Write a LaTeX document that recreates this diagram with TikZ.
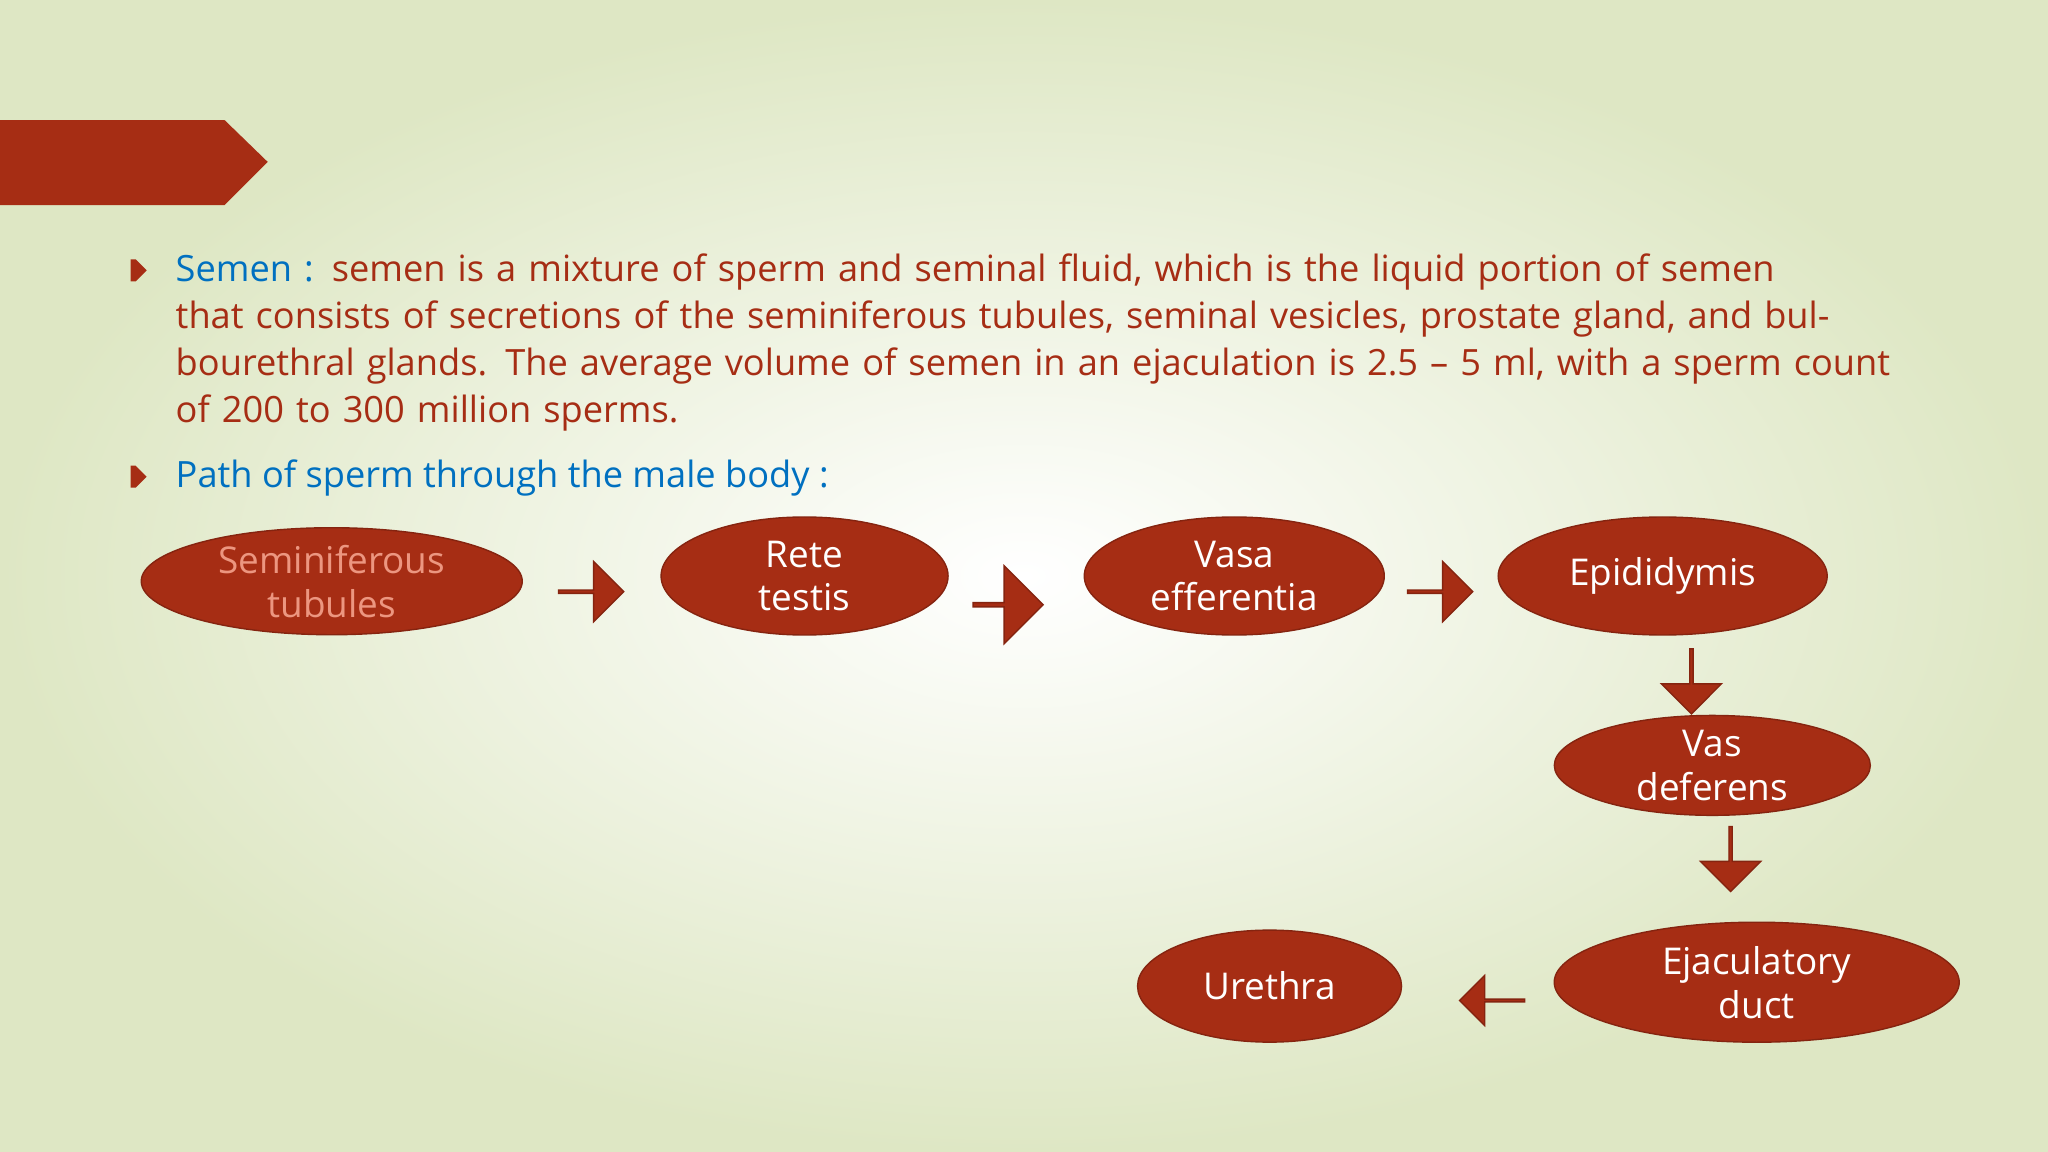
\documentclass[tikz,border=0pt]{standalone}
\usepackage{fontspec}
\setmainfont{Open Sans}
\usetikzlibrary{shapes.geometric,shapes.arrows}
\definecolor{rust}{RGB}{166,45,20}
\definecolor{ttblue}{RGB}{0,112,192}
\definecolor{bgedge}{RGB}{222,231,196}
\definecolor{pale}{RGB}{236,150,128}
\tikzset{
  stage/.style={ellipse, draw=rust!80!black, fill=rust, text=white, inner sep=0pt,
    align=center, font=\fontsize{10.5}{12.5}\selectfont},
  rarrow/.style={single arrow, fill=rust, draw=rust!80!black, inner sep=0pt,
    single arrow head extend=1.2mm, minimum height=6.5mm, minimum width=6mm},
  tick/.style={fill=rust, inner sep=0pt, minimum width=2.2mm, minimum height=1.6mm, single arrow, single arrow head extend=0pt}
}
\begin{document}
\begin{tikzpicture}[x=0.01306cm, y=-0.01306cm]
    \shade[inner color=white, outer color=bgedge] (0,0) rectangle (1568,882);
    \useasboundingbox (0,0) rectangle (1568,882);
    \fill[rust] (0,92) -- (172,92) -- (205,124) -- (172,157) -- (0,157) -- cycle;

    % bullet text
    \node[tick] (b1) at (102,207) {};
    \node[anchor=north west, text width=17.3cm, align=left, text=rust,
        font=\fontsize{10.3}{13.3}\selectfont, inner sep=0pt] (txt) at (134,194)
        {\textcolor{ttblue}{Semen :} semen is a mixture of sperm and seminal fluid, which is the liquid portion of semen that consists of secretions of the seminiferous tubules, seminal vesicles, prostate gland, and bulbourethral glands. The average volume of semen in an ejaculation is 2.5 -- 5 ml, with a sperm count of 200 to 300 million sperms.};
    \node[tick] (b2) at (102,365) {};
    \node[anchor=west, text=ttblue, font=\fontsize{10.3}{13.3}\selectfont, inner sep=0pt] (path) at (134,366)
        {Path of sperm through the male body :};

    % stages
    \node[stage, minimum width=3.81cm, minimum height=1.07cm, text=pale] (semi) at (254,445) {Seminiferous\\tubules};
    \node[stage, minimum width=2.87cm, minimum height=1.18cm] (rete) at (616,441) {Rete\\testis};
    \node[stage, minimum width=3.0cm, minimum height=1.18cm] (vasa) at (945,441) {Vasa\\efferentia};
    \node[stage, minimum width=3.29cm, minimum height=1.18cm] (epi) at (1273,441) {Epididymis};
    \node[stage, minimum width=3.16cm, minimum height=0.94cm] (vas) at (1311,586) {Vas\\deferens};
    \node[stage, minimum width=4.05cm, minimum height=1.2cm] (ejac) at (1345,752) {Ejaculatory\\duct};
    \node[stage, minimum width=2.64cm, minimum height=1.12cm] (ureth) at (972,755) {Urethra};

    % arrows
    \node[rarrow] (a1) at (452,453) {};
    \node[rarrow, minimum height=7mm, minimum width=7.8mm] (a2) at (771,463) {};
    \node[rarrow] (a3) at (1102,453) {};
    \node[rarrow, shape border rotate=270] (a4) at (1295,521) {};
    \node[rarrow, shape border rotate=270] (a5) at (1325,657) {};
    \node[rarrow, shape border rotate=180, minimum width=5mm] (a6) at (1143,766) {};
\end{tikzpicture}
\end{document}
